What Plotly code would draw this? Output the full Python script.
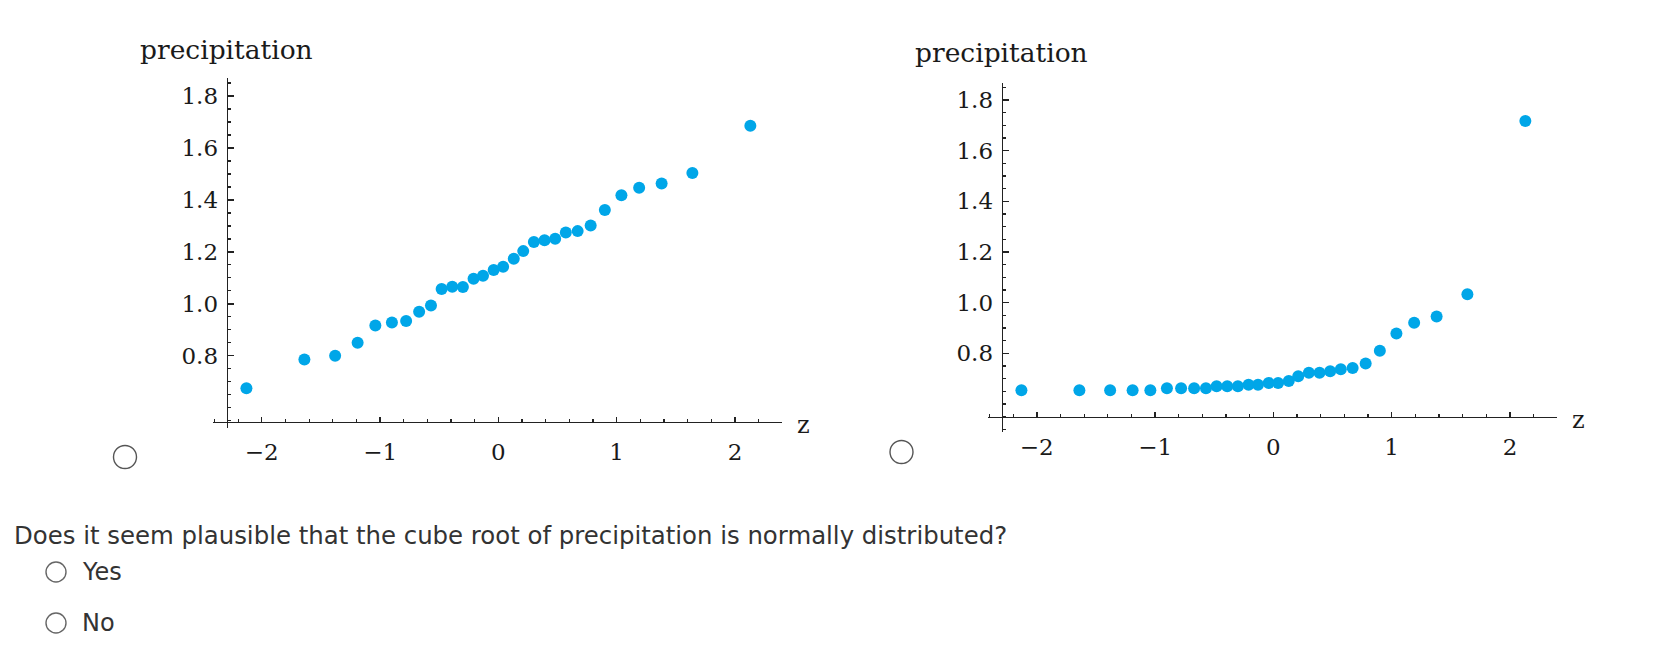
import plotly.graph_objects as go

W, H = 1667, 670

# ---- data ----
z_scores = [-2.13, -1.64, -1.38, -1.19, -1.04, -0.90, -0.78, -0.67, -0.57, -0.48,
            -0.39, -0.30, -0.21, -0.13, -0.04, 0.04, 0.13, 0.21, 0.30, 0.39,
            0.48, 0.57, 0.67, 0.78, 0.90, 1.04, 1.19, 1.38, 1.64, 2.13]

left_precip = [0.675, 0.786, 0.800, 0.850, 0.917, 0.928, 0.934, 0.970, 0.994, 1.057,
               1.066, 1.065, 1.097, 1.108, 1.130, 1.143, 1.174, 1.203, 1.238, 1.245,
               1.251, 1.275, 1.280, 1.302, 1.361, 1.418, 1.447, 1.463, 1.504, 1.686]

right_precip = [0.654, 0.654, 0.654, 0.654, 0.654, 0.662, 0.662, 0.662, 0.662, 0.670,
                0.670, 0.670, 0.676, 0.676, 0.683, 0.683, 0.691, 0.709, 0.723, 0.723,
                0.729, 0.737, 0.742, 0.760, 0.810, 0.878, 0.921, 0.945, 1.033, 1.717]

x_major = [-2, -1, 0, 1, 2]
y_major = [0.8, 1.0, 1.2, 1.4, 1.6, 1.8]
y_major_text = ["0.8", "1.0", "1.2", "1.4", "1.6", "1.8"]

y_title = "precipitation"
x_title = "z"
question = "Does it seem plausible that the cube root of precipitation is normally distributed?"
choices = ["Yes", "No"]

# ---- styling / geometry ----
MARKER = "#00A6E8"
AXIS = "#222222"
TXT = "#1a1a1a"
SERIF = "DejaVu Serif"
SANS = "DejaVu Sans"

panels = [
    dict(px=(213.3, 781.7), py=(78.4, 428.0), xr=(-2.41, 2.395), yr=(0.522, 1.868),
         cross=(-2.297, 0.546), title_y=50, radio=(125, 457), values=left_precip),
    dict(px=(988.3, 1556.7), py=(83.3, 431.8), xr=(-2.41, 2.395), yr=(0.49, 1.866),
         cross=(-2.297, 0.5485), title_y=53, radio=(901.5, 452), values=right_precip),
]

fig = go.Figure()
annotations = []
shapes = []
layout_axes = {}

for i, p in enumerate(panels):
    sfx = "" if i == 0 else str(i + 1)
    xdom = [p["px"][0] / W, p["px"][1] / W]
    ydom = [1 - p["py"][1] / H, 1 - p["py"][0] / H]
    xr, yr = p["xr"], p["yr"]
    cx, cy = p["cross"]
    xpos = ydom[0] + (cy - yr[0]) / (yr[1] - yr[0]) * (ydom[1] - ydom[0])
    ypos = xdom[0] + (cx - xr[0]) / (xr[1] - xr[0]) * (xdom[1] - xdom[0])

    fig.add_trace(go.Scatter(
        x=z_scores, y=p["values"], mode="markers",
        marker=dict(size=12, color=MARKER, line=dict(width=0)),
        xaxis="x" + sfx, yaxis="y" + sfx, hoverinfo="skip", cliponaxis=False,
    ))

    layout_axes["xaxis" + sfx] = dict(
        domain=xdom, range=list(xr), anchor="free", position=xpos,
        showline=True, linecolor=AXIS, linewidth=1.4,
        showgrid=False, zeroline=False,
        tickmode="array", tickvals=x_major,
        ticks="inside", ticklen=5, tickwidth=1.4, tickcolor=AXIS,
        tickfont=dict(family=SERIF, size=23, color=TXT),
        ticklabelstandoff=9,
        minor=dict(tickmode="linear", tick0=0, dtick=0.2, ticks="inside",
                   ticklen=3, tickwidth=1.2, tickcolor=AXIS, showgrid=False),
        fixedrange=True,
    )
    layout_axes["yaxis" + sfx] = dict(
        domain=ydom, range=list(yr), anchor="free", position=ypos,
        showline=True, linecolor=AXIS, linewidth=1.4,
        showgrid=False, zeroline=False,
        tickmode="array", tickvals=y_major, ticktext=y_major_text,
        ticks="inside", ticklen=6, tickwidth=1.4, tickcolor=AXIS,
        tickfont=dict(family=SERIF, size=23, color=TXT),
        ticklabelstandoff=4,
        minor=dict(tickmode="linear", tick0=0, dtick=0.05, ticks="inside",
                   ticklen=3, tickwidth=1.2, tickcolor=AXIS, showgrid=False),
        fixedrange=True,
    )

    # axis titles
    annotations.append(dict(
        text=y_title, xref="paper", yref="paper", x=ypos, y=1 - p["title_y"] / H,
        xanchor="center", yanchor="middle", showarrow=False,
        font=dict(family=SERIF, size=26.5, color=TXT),
    ))
    annotations.append(dict(
        text=x_title, xref="x" + sfx + " domain", yref="paper", x=1, y=xpos,
        xanchor="left", yanchor="middle", xshift=13, yshift=-3, showarrow=False,
        font=dict(family=SERIF, size=24, color=TXT),
    ))
    # radio button for the option
    shapes.append(dict(
        type="circle", xref="paper", yref="paper",
        xsizemode="pixel", ysizemode="pixel",
        xanchor=p["radio"][0] / W, yanchor=1 - p["radio"][1] / H,
        x0=-11.5, x1=11.5, y0=-11.5, y1=11.5,
        line=dict(color="#555555", width=1.4), fillcolor="white",
    ))

# question and choices
annotations.append(dict(
    text=question, xref="paper", yref="paper", x=12 / W, y=1 - 535 / H,
    xanchor="left", yanchor="middle", showarrow=False,
    font=dict(family=SANS, size=24.4, color="#333333"),
))
for j, (label, cy) in enumerate(zip(choices, [572, 623])):
    annotations.append(dict(
        text=label, xref="paper", yref="paper", x=80 / W, y=1 - cy / H,
        xanchor="left", yanchor="middle", showarrow=False,
        font=dict(family=SANS, size=24, color="#333333"),
    ))
    shapes.append(dict(
        type="circle", xref="paper", yref="paper",
        xsizemode="pixel", ysizemode="pixel",
        xanchor=56 / W, yanchor=1 - cy / H,
        x0=-10, x1=10, y0=-10, y1=10,
        line=dict(color="#666666", width=1.4), fillcolor="white",
    ))

fig.update_layout(
    width=W, height=H, margin=dict(l=0, r=0, t=0, b=0),
    paper_bgcolor="white", plot_bgcolor="white", showlegend=False,
    annotations=annotations, shapes=shapes, **layout_axes,
)

fig.write_html("out.html", config={"displayModeBar": False, "staticPlot": True})
